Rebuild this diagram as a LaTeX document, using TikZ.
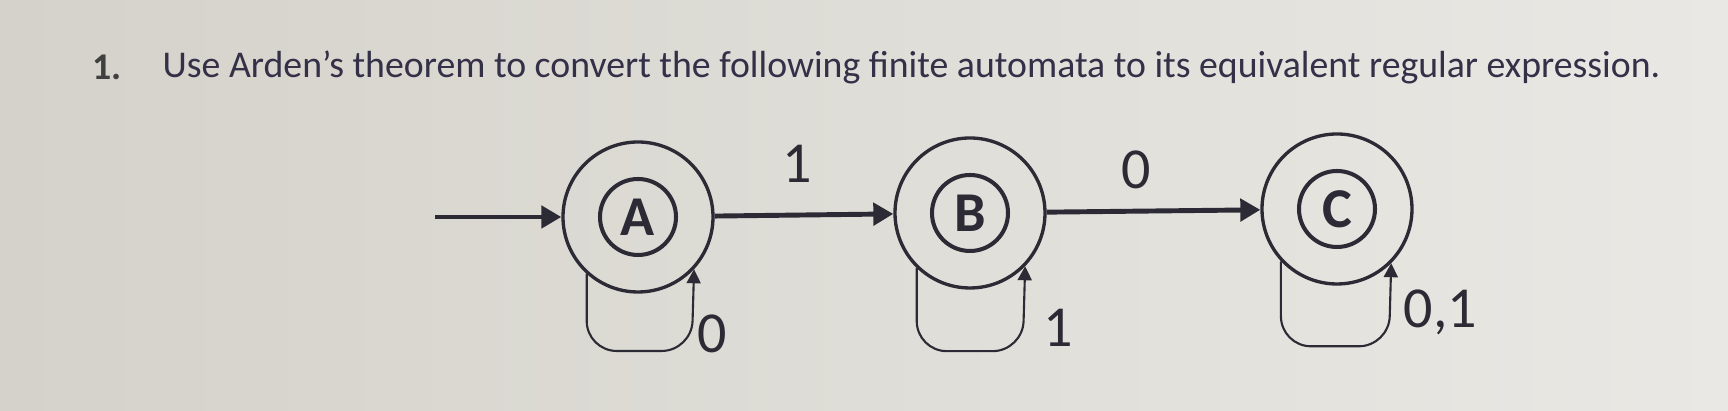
\documentclass[tikz,border=0pt]{standalone}
\usepackage{fontspec}
\setmainfont{Carlito}
\usepackage{tikz}
\usetikzlibrary{arrows.meta, positioning, calc}
\definecolor{inkgray}{RGB}{44, 42, 52}
\definecolor{textgray}{RGB}{52, 48, 72}
\definecolor{numgray}{RGB}{64, 64, 64}
\definecolor{paperleft}{RGB}{212, 210, 202}
\definecolor{paperright}{RGB}{233, 232, 228}

\begin{document}
\begin{tikzpicture}[
    state/.style={draw=inkgray, line width=0.95pt, circle, minimum size=1.5cm, inner sep=0pt},
    core/.style={draw=inkgray, line width=1.15pt, circle, minimum size=0.76cm, inner sep=0pt, font=\fontsize{16}{18}\selectfont\bfseries, text=inkgray},
    trans/.style={-{Triangle[length=0.2cm, width=0.22cm]}, line width=1.4pt, inkgray},
    selfloop/.style={-{Triangle[length=0.14cm, width=0.14cm]}, line width=0.6pt, inkgray, rounded corners=0.3cm},
    symbol/.style={font=\fontsize{16.5}{18}\selectfont, text=inkgray, inner sep=0pt}
]
    % Paper
    \useasboundingbox (0,0) rectangle (17.28,-4.11);
    \shade[left color=paperleft, right color=paperright] (0,0) rectangle (17.28,-4.11);

    % Question
    \node[anchor=base west, inner sep=0pt, font=\fontsize{10.75}{12}\selectfont\bfseries, text=numgray] (num) at (0.92,-0.80) {1.};
    \node[anchor=base west, inner sep=0pt, font=\fontsize{10.75}{12}\selectfont, text=textgray] (question) at (1.62,-0.78) {Use Arden’s theorem to convert the following finite automata to its equivalent regular expression.};

    % States
    \node[state] (A) at (6.38,-2.17) {};
    \node[state] (B) at (9.70,-2.13) {};
    \node[state] (C) at (13.37,-2.09) {};
    \node[core] (A-in) at (A) {A};
    \node[core] (B-in) at (B) {B};
    \node[core] (C-in) at (C) {C};

    % Transitions
    \coordinate (start) at (4.35,-2.17);
    \draw[trans] (start) -- (A);
    \draw[trans] (A) -- (B) node[symbol, pos=0.46, above=0.3cm] (lab-ab) {1};
    \draw[trans] (B) -- (C) node[symbol, pos=0.42, above=0.2cm] (lab-bc) {0};

    % Self loops
    \draw[selfloop] (A.228) -- ++(0,-0.77) -- ++(1.05,0) -- (A.317);
    \draw[selfloop] (B.226) -- ++(0,-0.83) -- ++(1.06,0) -- (B.316);
    \draw[selfloop] (C.223) -- ++(0,-0.85) -- ++(1.08,0) -- (C.315);
    \node[symbol, anchor=base west] (lab-aa) at ($(A)+(0.59,-1.36)$) {0};
    \node[symbol, anchor=base west] (lab-bb) at ($(B)+(0.73,-1.34)$) {1};
    \node[symbol, anchor=base west] (lab-cc) at ($(C)+(0.66,-1.19)$) {0,1};

\end{tikzpicture}
\end{document}
